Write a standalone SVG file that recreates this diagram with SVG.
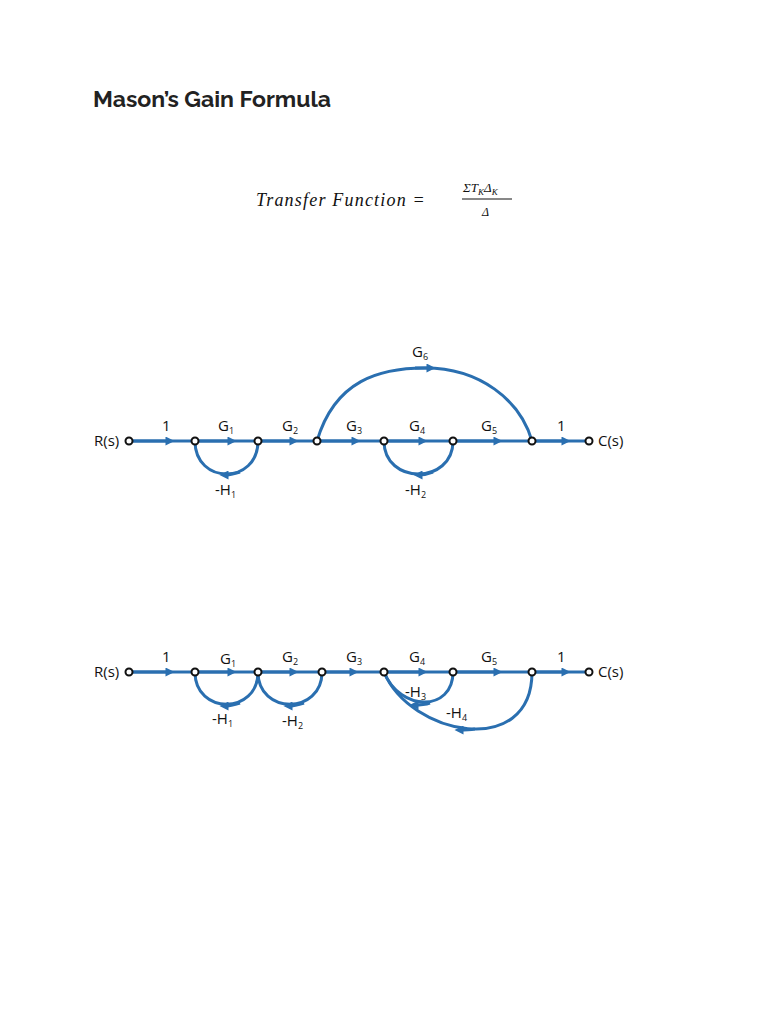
<svg xmlns="http://www.w3.org/2000/svg" width="768" height="1024" viewBox="0 0 768 1024">
<style>
.e{fill:none;stroke:#2a6fb0;stroke-width:3}
.n{fill:#fff;stroke:#111;stroke-width:2}
.t{font-family:"Open Sans","Liberation Sans",sans-serif;font-size:15px;fill:#111}
.s{font-size:9px}
.title{font-family:Raleway,"Liberation Sans",sans-serif;font-size:23px;font-weight:bold;fill:#222}
.f{font-family:"Liberation Serif",serif;font-style:italic;fill:#111}
</style>
<defs><marker id="a" viewBox="0 0 10 10" refX="5" refY="5" markerWidth="3.2" markerHeight="3" orient="auto"><path d="M0,0L10,5L0,10Z" fill="#2a6fb0"/></marker></defs>
<rect width="768" height="1024" fill="#fff"/>
<text class="title" x="93" y="107">Mason’s Gain Formula</text>
<text class="f" x="256" y="206" font-size="18" letter-spacing="1.2">Transfer Function =</text>
<text class="f" x="463" y="192" font-size="13">ΣT<tspan font-size="9" dy="3">K</tspan><tspan dy="-3">Δ</tspan><tspan font-size="9" dy="3">K</tspan></text>
<line x1="462" y1="199" x2="512" y2="199" stroke="#111" stroke-width="1"/>
<text class="f" x="482" y="216" font-size="12">Δ</text>
<g id="connectors">
<path class="e" d="M129,441H589"/>
<path class="e" d="M129,441L170,441" marker-end="url(#a)"/>
<path class="e" d="M195,441L232,441" marker-end="url(#a)"/>
<path class="e" d="M258,441L294,441" marker-end="url(#a)"/>
<path class="e" d="M317,441L356,441" marker-end="url(#a)"/>
<path class="e" d="M384,441L423,441" marker-end="url(#a)"/>
<path class="e" d="M453,441L498,441" marker-end="url(#a)"/>
<path class="e" d="M532,441L566,441" marker-end="url(#a)"/>
<path class="e" d="M258,441C258,485 195,485 195,441"/>
<path class="e" d="M240,472C234,474 230,475 224,475" marker-end="url(#a)"/>
<path class="e" d="M453,441C453,485 384,485 384,441"/>
<path class="e" d="M433,472C428,474 424,475 418,475" marker-end="url(#a)"/>
<path class="e" d="M317,441C335,380 380,368 425,368C480,368 520,400 532,441"/>
<path class="e" d="M415,368L431,368" marker-end="url(#a)"/>
<path class="e" d="M129,672H589"/>
<path class="e" d="M129,672L170,672" marker-end="url(#a)"/>
<path class="e" d="M195,672L232,672" marker-end="url(#a)"/>
<path class="e" d="M258,672L294,672" marker-end="url(#a)"/>
<path class="e" d="M322,672L354,672" marker-end="url(#a)"/>
<path class="e" d="M384,672L423,672" marker-end="url(#a)"/>
<path class="e" d="M453,672L498,672" marker-end="url(#a)"/>
<path class="e" d="M532,672L566,672" marker-end="url(#a)"/>
<path class="e" d="M258,672C258,715 195,715 195,672"/>
<path class="e" d="M240,703C234,705 230,706 224,706" marker-end="url(#a)"/>
<path class="e" d="M322,672C322,715 258,715 258,672"/>
<path class="e" d="M304,703C298,705 294,706 288,706" marker-end="url(#a)"/>
<path class="e" d="M453,672C453,712 400,712 384,672"/>
<path class="e" d="M430,703C424,705 420,705 414,705" marker-end="url(#a)"/>
<path class="e" d="M532,672C532,760 410,735 384,672"/>
<path class="e" d="M475,729C469,730 465,730 459,730" marker-end="url(#a)"/>
</g>
<g id="nodes">
<g id="r1"><circle class="n" cx="129" cy="441" r="3.5"/><text class="t" x="94" y="446">R(s)</text></g>
<circle id="n12" class="n" cx="195" cy="441" r="3.5"/>
<circle id="n13" class="n" cx="258" cy="441" r="3.5"/>
<circle id="n14" class="n" cx="317" cy="441" r="3.5"/>
<circle id="n15" class="n" cx="384" cy="441" r="3.5"/>
<circle id="n16" class="n" cx="453" cy="441" r="3.5"/>
<circle id="n17" class="n" cx="532" cy="441" r="3.5"/>
<g id="c1"><circle class="n" cx="589" cy="441" r="3.5"/><text class="t" x="598" y="446">C(s)</text></g>
<g id="r2"><circle class="n" cx="129" cy="672" r="3.5"/><text class="t" x="94" y="677">R(s)</text></g>
<circle id="n22" class="n" cx="195" cy="672" r="3.5"/>
<circle id="n23" class="n" cx="258" cy="672" r="3.5"/>
<circle id="n24" class="n" cx="322" cy="672" r="3.5"/>
<circle id="n25" class="n" cx="384" cy="672" r="3.5"/>
<circle id="n26" class="n" cx="453" cy="672" r="3.5"/>
<circle id="n27" class="n" cx="532" cy="672" r="3.5"/>
<g id="c2"><circle class="n" cx="589" cy="672" r="3.5"/><text class="t" x="598" y="677">C(s)</text></g>
</g>
<g id="labels">
<text class="t" x="162" y="431">1</text>
<text class="t" x="218" y="431">G<tspan class="s" dy="3">1</tspan></text>
<text class="t" x="282" y="431">G<tspan class="s" dy="3">2</tspan></text>
<text class="t" x="346" y="431">G<tspan class="s" dy="3">3</tspan></text>
<text class="t" x="409" y="431">G<tspan class="s" dy="3">4</tspan></text>
<text class="t" x="481" y="431">G<tspan class="s" dy="3">5</tspan></text>
<text class="t" x="557" y="431">1</text>
<text class="t" x="412" y="357">G<tspan class="s" dy="3">6</tspan></text>
<text class="t" x="215" y="495">-H<tspan class="s" dy="3">1</tspan></text>
<text class="t" x="405" y="495">-H<tspan class="s" dy="3">2</tspan></text>
<text class="t" x="162" y="662">1</text>
<text class="t" x="220" y="664">G<tspan class="s" dy="3">1</tspan></text>
<text class="t" x="282" y="662">G<tspan class="s" dy="3">2</tspan></text>
<text class="t" x="346" y="662">G<tspan class="s" dy="3">3</tspan></text>
<text class="t" x="409" y="662">G<tspan class="s" dy="3">4</tspan></text>
<text class="t" x="481" y="662">G<tspan class="s" dy="3">5</tspan></text>
<text class="t" x="557" y="662">1</text>
<text class="t" x="212" y="724">-H<tspan class="s" dy="3">1</tspan></text>
<text class="t" x="282" y="726">-H<tspan class="s" dy="3">2</tspan></text>
<text class="t" x="405" y="697">-H<tspan class="s" dy="3">3</tspan></text>
<text class="t" x="446" y="718">-H<tspan class="s" dy="3">4</tspan></text>
</g>
</svg>
